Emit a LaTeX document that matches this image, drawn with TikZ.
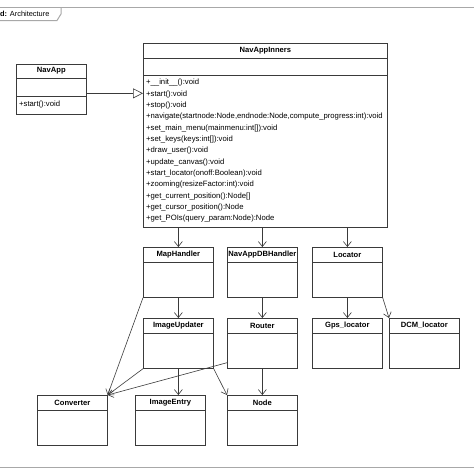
\documentclass[tikz,border=0pt]{standalone}
\usepackage{fontspec}
\setmainfont{Liberation Sans}
\usetikzlibrary{arrows.meta}

\definecolor{linegray}{HTML}{3A3A3A}
\definecolor{framegray}{HTML}{A8A8A8}

\tikzset{
	cls/.style={draw=linegray, line width=0.7pt, minimum width=70pt, minimum height=50pt, inner sep=0pt, anchor=north west},
	ttl/.style={font=\fontsize{7.6}{8}\selectfont\bfseries, inner sep=0pt},
	meth/.style={font=\fontsize{7.7}{8}\selectfont, inner sep=0pt, anchor=west},
	cline/.style={draw=linegray, line width=0.7pt},
	dep/.style={draw=linegray, line width=0.6pt, -{Straight Barb[length=5pt,width=8pt]}},
	gen/.style={draw=linegray, line width=0.6pt, -{Triangle[open,length=10pt,width=10pt,fill=white]}},
	frm/.style={draw=framegray, line width=1pt}
}

\begin{document}
\begin{tikzpicture}[x=1pt,y=-1pt]
	\useasboundingbox (0,0) rectangle (474,474);
	\draw[frm] (0,7) -- (474,7);
	\draw[frm] (0,20.5) -- (57,20.5) -- (61,14) -- (61,7);
	\draw[frm] (0,467) -- (474,467);
	\node[anchor=west, inner sep=0pt, font=\fontsize{7.4}{8}\selectfont] (framelabel) at (0,14) {\textbf{d:} Architecture};

	\node[cls] (navapp) at (16,64) {};
	\draw[cline] (navapp.north west) ++(0,14) -- ++(70,0);
	\draw[cline] (navapp.north west) ++(0,32) -- ++(70,0);
	\node[ttl] at ([yshift=-7pt]navapp.north) {NavApp};
	\node[meth] at (19,105) {+start():void};

	\node[cls, minimum width=244pt, minimum height=184pt] (navappinners) at (143,43) {};
	\draw[cline] (navappinners.north west) ++(0,15) -- ++(244,0);
	\draw[cline] (navappinners.north west) ++(0,32) -- ++(244,0);
	\node[ttl] at ([yshift=-7.5pt]navappinners.north) {NavAppInners};
	\foreach \m [count=\i from 0] in {+\_\_init\_\_():void, +start():void, +stop():void,
		{+navigate(startnode:Node,endnode:Node,compute\_progress:int):void},
		+set\_main\_menu(mainmenu:int[]):void, +set\_keys(keys:int[]):void,
		+draw\_user():void, +update\_canvas():void, +start\_locator(onoff:Boolean):void,
		+zooming(resizeFactor:int):void, +get\_current\_position():Node[],
		+get\_cursor\_position():Node, +get\_POIs(query\_param:Node):Node}
		\node[meth] at (146, 83+11.33*\i) {\m};

	\foreach \n/\t/\x/\y in {maphandler/MapHandler/143/247, dbhandler/NavAppDBHandler/227/247,
		locator/Locator/312/247, imageupdater/ImageUpdater/143/318, router/Router/227/318,
		gpslocator/Gps\_locator/312/318, dcmlocator/DCM\_locator/389/318,
		converter/Converter/37/395, imageentry/ImageEntry/135/395, nodecls/Node/227/395}
	{
		\node[cls] (\n) at (\x,\y) {};
		\draw[cline] (\n.north west) ++(0,15) -- ++(70,0);
		\node[ttl] at ([yshift=-7.5pt]\n.north) {\t};
	}

	\coordinate (genstart) at ([yshift=-4pt]navapp.east);
	\draw[gen] (genstart) -- (genstart -| navappinners.west);

	\draw[dep] (navappinners.south -| maphandler.north) -- (maphandler.north);
	\draw[dep] (navappinners.south -| dbhandler.north) -- (dbhandler.north);
	\draw[dep] (navappinners.south -| locator.north) -- (locator.north);
	\draw[dep] (maphandler) -- (imageupdater);
	\draw[dep] (dbhandler) -- (router);
	\draw[dep] (locator) -- (gpslocator);
	\draw[dep] (router) -- (nodecls);
	\draw[dep] (imageupdater.south) -- (imageupdater.south |- imageentry.north);
	\draw[dep] (locator.south east) -- (dcmlocator.north west);
	\draw[dep] (maphandler.south west) -- (converter.north east);
	\draw[dep] (imageupdater.south west) -- (converter.north east);
	\draw[dep] ([yshift=6pt]router.south west) -- (converter.north east);
	\draw[dep] (imageupdater.south east) -- (nodecls.north west);
\end{tikzpicture}
\end{document}
